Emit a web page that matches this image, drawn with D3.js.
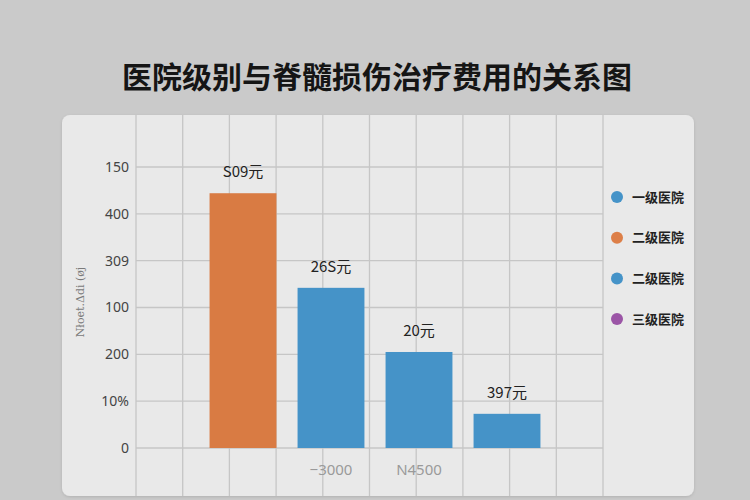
<!DOCTYPE html>
<html>
<head>
<meta charset="utf-8">
<script src="https://cdn.jsdelivr.net/npm/d3@7"></script>
<style>
  html, body { margin: 0; padding: 0; background: #cacaca; }
  svg { display: block; }
</style>
</head>
<body>
<svg id="chart"></svg>
<script>
const title = "医院级别与脊髓损伤治疗费用的关系图";
const categories = ["一级医院", "二级医院", "二级医院", "三级医院"];
const costs = [544, 342, 205, 73];
const barColors = ["#d97b43", "#4593c8", "#4593c8", "#4593c8"];
const valueLabels = ["S09元", "26S元", "20元", "397元"];
const xTickLabels = ["", "−3000", "N4500", ""];
const yTicks = [0, 100, 200, 300, 400, 500, 600];
const yTickLabels = ["0", "10%", "200", "100", "309", "400", "150"];
const yTitle = "Nłoet.Δdi  (øj";
const legendLabels = ["一级医院", "二级医院", "二级医院", "三级医院"];
const legendColors = ["#4593c8", "#dd7f48", "#4593c8", "#9b55a6"];

const width = 750;
const height = 500;
const panel = { left: 62, top: 115, right: 694, bottom: 496 };
const plot = { left: 136, right: 603 };

const svg = d3.select("#chart")
    .attr("width", width)
    .attr("height", height);

svg.append("rect")
    .attr("width", width)
    .attr("height", height)
    .attr("fill", "#cacaca");

svg.append("text")
    .attr("x", 377)
    .attr("y", 88)
    .attr("text-anchor", "middle")
    .style("font-family", "'Noto Sans CJK SC', sans-serif")
    .style("font-weight", 700)
    .style("font-size", "30px")
    .style("fill", "#151515")
    .text(title);

// soft shadow under the panel
const defs = svg.append("defs");
defs.append("filter")
    .attr("id", "shadow")
    .attr("x", "-5%").attr("y", "-5%")
    .attr("width", "110%").attr("height", "110%")
    .append("feDropShadow")
    .attr("dx", 0).attr("dy", 1)
    .attr("stdDeviation", 1.5)
    .attr("flood-color", "#000")
    .attr("flood-opacity", 0.12);

svg.append("rect")
    .attr("x", panel.left)
    .attr("y", panel.top)
    .attr("width", panel.right - panel.left)
    .attr("height", panel.bottom - panel.top)
    .attr("rx", 8)
    .attr("fill", "#e9e9e9")
    .attr("filter", "url(#shadow)");

const yScale = d3.scaleLinear()
    .domain([0, 600])
    .range([448, 167]);

const xScale = d3.scaleBand()
    .domain(d3.range(categories.length))
    .range([199, 551])
    .paddingInner(0.24)
    .paddingOuter(0.12);

// decorative vertical grid, 10 columns across the plot
const gridX = d3.scaleLinear().domain([0, 10]).range([plot.left, plot.right]);

svg.append("g")
    .selectAll("line")
    .data(d3.range(11))
    .join("line")
    .attr("x1", d => gridX(d))
    .attr("x2", d => gridX(d))
    .attr("y1", panel.top)
    .attr("y2", panel.bottom)
    .attr("stroke", "#c6c6c6")
    .attr("stroke-width", 1.3);

svg.append("g")
    .selectAll("line")
    .data(yTicks)
    .join("line")
    .attr("x1", plot.left)
    .attr("x2", plot.right)
    .attr("y1", d => yScale(d))
    .attr("y2", d => yScale(d))
    .attr("stroke", "#c6c6c6")
    .attr("stroke-width", 1.3);

const yAxis = d3.axisLeft(yScale)
    .tickValues(yTicks)
    .tickSize(0)
    .tickPadding(6)
    .tickFormat((d, i) => yTickLabels[i]);

svg.append("g")
    .attr("transform", `translate(${plot.left - 1}, 0)`)
    .call(yAxis)
    .call(g => g.select(".domain").remove())
    .selectAll("text")
    .style("font-family", "'Noto Sans', sans-serif")
    .style("font-size", "14px")
    .style("fill", "#444");

svg.append("text")
    .attr("transform", "translate(84, 302) rotate(-90)")
    .attr("text-anchor", "middle")
    .style("font-family", "'DejaVu Serif', serif")
    .style("font-size", "11px")
    .style("fill", "#7a7a7a")
    .text(yTitle);

svg.append("g")
    .selectAll("rect")
    .data(costs)
    .join("rect")
    .attr("x", (d, i) => xScale(i))
    .attr("y", d => yScale(d))
    .attr("width", xScale.bandwidth())
    .attr("height", d => yScale(0) - yScale(d))
    .attr("fill", (d, i) => barColors[i]);

svg.append("g")
    .selectAll("text")
    .data(costs)
    .join("text")
    .attr("x", (d, i) => xScale(i) + xScale.bandwidth() / 2)
    .attr("y", d => yScale(d) - 16)
    .attr("text-anchor", "middle")
    .style("font-family", "'Noto Sans CJK SC', sans-serif")
    .style("font-size", "15px")
    .style("fill", "#222")
    .text((d, i) => valueLabels[i]);

const xAxis = d3.axisBottom(xScale)
    .tickSize(0)
    .tickPadding(16)
    .tickFormat((d, i) => xTickLabels[i]);

svg.append("g")
    .attr("transform", `translate(0, ${yScale(0)})`)
    .call(xAxis)
    .call(g => g.select(".domain").remove())
    .selectAll("text")
    .style("font-family", "'Noto Sans', sans-serif")
    .style("font-size", "15px")
    .style("fill", "#9a9a9a");

const legend = svg.append("g")
    .selectAll("g")
    .data(legendLabels)
    .join("g")
    .attr("transform", (d, i) => `translate(617, ${197 + i * 40.7})`);

legend.append("circle")
    .attr("r", 6)
    .attr("fill", (d, i) => legendColors[i]);

legend.append("text")
    .attr("x", 15)
    .attr("dy", "0.35em")
    .style("font-family", "'Noto Sans CJK SC', sans-serif")
    .style("font-weight", 700)
    .style("font-size", "13px")
    .style("fill", "#222")
    .text(d => d);
</script>
</body>
</html>
